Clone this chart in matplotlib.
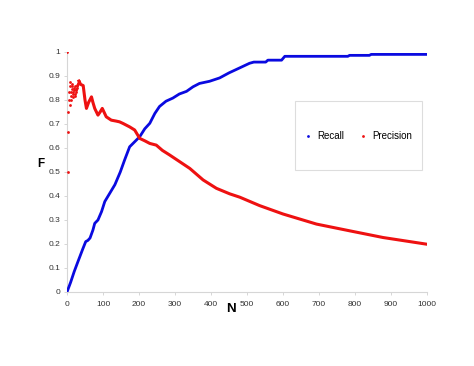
import matplotlib
matplotlib.use("Agg")
import matplotlib.pyplot as plt
from matplotlib.patches import Rectangle
from matplotlib.lines import Line2D

plt.rcParams['font.family'] = ['Liberation Sans', 'DejaVu Sans']

# ---- data ----
recall_n = [0, 10, 20, 30, 44, 52, 58, 64, 72, 77, 86, 96, 105, 119, 133,
            148, 160, 174, 188, 202, 216, 230, 244, 257, 275, 294, 312, 332,
            350, 368, 396, 424, 450, 480, 507, 519, 552, 558, 596, 605, 780,
            785, 840, 845, 1000]
recall = [0, 0.04, 0.085, 0.125, 0.18, 0.21, 0.215, 0.225, 0.258, 0.286,
          0.30, 0.335, 0.377, 0.412, 0.447, 0.50, 0.55, 0.605, 0.626, 0.647,
          0.68, 0.703, 0.744, 0.773, 0.795, 0.808, 0.825, 0.836, 0.855, 0.869,
          0.878, 0.892, 0.913, 0.934, 0.953, 0.958, 0.958, 0.966, 0.966,
          0.982, 0.982, 0.986, 0.986, 0.99, 0.99]

prec_early_n = list(range(1, 34))
prec_early = [1.0, 0.5, 0.667, 0.75, 0.8, 0.833, 0.857, 0.875, 0.778, 0.8,
              0.818, 0.833, 0.846, 0.857, 0.867, 0.813, 0.824, 0.833, 0.842,
              0.85, 0.857, 0.818, 0.826, 0.833, 0.84, 0.846, 0.852, 0.857,
              0.862, 0.867, 0.871, 0.875, 0.879]

prec_n = [33, 38, 45, 50, 54, 60, 68, 72, 77, 86, 92, 98, 109, 123, 137,
          146, 156, 174, 188, 202, 216, 230, 248, 265, 285, 313, 341, 378,
          415, 452, 480, 535, 600, 693, 785, 878, 1000]
prec = [0.879, 0.865, 0.86, 0.80, 0.765, 0.79, 0.813, 0.79, 0.765, 0.737,
        0.75, 0.765, 0.73, 0.716, 0.712, 0.709, 0.702, 0.688, 0.675, 0.64,
        0.63, 0.619, 0.612, 0.59, 0.571, 0.543, 0.515, 0.467, 0.432, 0.409,
        0.395, 0.36, 0.325, 0.283, 0.255, 0.227, 0.199]

x_ticks = [0, 100, 200, 300, 400, 500, 600, 700, 800, 900, 1000]
y_ticks = [0, 0.1, 0.2, 0.3, 0.4, 0.5, 0.6, 0.7, 0.8, 0.9, 1]
y_labels = ['0', '0.1', '0.2', '0.3', '0.4', '0.5', '0.6', '0.7', '0.8', '0.9', '1']

BLUE = '#0a0ae0'
RED = '#ee1111'

fig = plt.figure(figsize=(4.74, 3.66), dpi=100)
ax = fig.add_axes([67 / 474, 1 - 292 / 366, 360 / 474, 240 / 366])

ax.plot(recall_n, recall, color=BLUE, lw=2.0, solid_joinstyle='round', zorder=3)
ax.plot(prec_n, prec, color=RED, lw=2.2, solid_joinstyle='round', zorder=4)
ax.plot(prec_early_n, prec_early, 'o', color=RED, ms=2.0, mew=0, zorder=4)

ax.set_xlim(0, 1000)
ax.set_ylim(0, 1)
ax.set_xticks(x_ticks)
ax.set_xticklabels([str(v) for v in x_ticks])
ax.set_yticks(y_ticks)
ax.set_yticklabels(y_labels)

for s in ['top', 'right']:
    ax.spines[s].set_visible(False)
for s in ['left', 'bottom']:
    ax.spines[s].set_color('#d6d6d6')
    ax.spines[s].set_linewidth(0.8)

ax.tick_params(axis='both', length=2, width=0.6, color='#d0d0d0',
               labelsize=6, labelcolor='#333333')
ax.tick_params(axis='x', pad=4.5)
ax.tick_params(axis='y', pad=3)

fig.text(40.5 / 474, 1 - 164 / 366, 'F', fontsize=8.5, fontweight='bold',
         ha='center', va='center')
fig.text(231 / 474, 1 - 309 / 366, 'N', fontsize=9.5, fontweight='bold',
         ha='center', va='center')

# legend box
box = Rectangle((295 / 474, 1 - 170 / 366), 127 / 474, 69 / 366,
                transform=fig.transFigure, facecolor='white',
                edgecolor='#dddddd', linewidth=0.8, zorder=5)
fig.patches.append(box)
handles = [Line2D([], [], ls='none', marker='o', color=BLUE, ms=2, mew=0),
           Line2D([], [], ls='none', marker='o', color=RED, ms=2, mew=0)]
leg = fig.legend(handles, ['Recall', 'Precision'], loc='center',
                 bbox_to_anchor=(358 / 474, 1 - 136 / 366), ncol=2,
                 frameon=False, fontsize=7, handlelength=0.8,
                 handletextpad=0.5, columnspacing=1.6)
leg.set_zorder(6)

fig.savefig('out.png', dpi=100)
